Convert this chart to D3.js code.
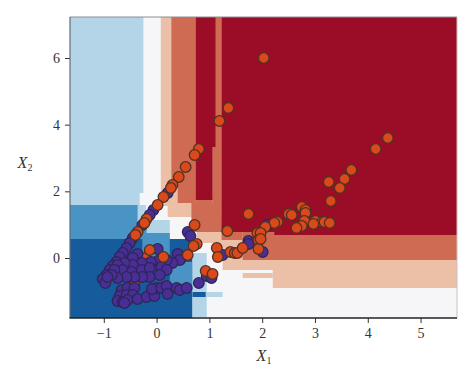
<!DOCTYPE html>
<html><head><meta charset="utf-8">
<script src="https://cdn.jsdelivr.net/npm/d3@7"></script>
<style>html,body{margin:0;background:#fff}svg{display:block}
.tick text{font-family:"Liberation Serif",serif;font-size:14px;fill:#333}
.lab{font-family:"Liberation Serif",serif;fill:#333}
.lab .m{font-style:italic;font-size:16px}
.lab .s{font-style:normal;font-size:10px}</style>
</head><body><svg id="c" width="474" height="380"></svg>
<script>
const xDomain=[-1.64,5.69], yDomain=[-1.8,7.23];
const xTicks=[-1,0,1,2,3,4,5], yTicks=[0,2,4,6];
const levelColors=["#f6f6f8","#b4d5e8","#4a94c5","#145c9c","#ecc0a7","#cf6a53","#9b1027"];
// regions: [level, x0, x1, y0, y1], painted in order
const regions=[
[0,-1.64,5.69,-1.8,7.23],
[1,-1.64,-.25,1.95,7.23],[1,-1.64,-.32,1.59,1.95],[1,-.40,-.20,1.14,1.59],[1,-.30,.25,.39,1.14],
[3,-1.64,.68,-1.8,.57],
[2,-1.64,-.36,.57,1.59],[2,-.40,-.19,.57,.99],[2,-.27,.25,0,.75],[2,.25,.68,-1.02,-.12],
[1,.68,.95,-1.77,.15],[1,.87,1.25,-1.17,-1.02],
[3,.68,.93,-1.17,-1.02],
[4,.08,5.69,1.56,7.23],[4,.21,.76,1.23,1.56],[4,.76,2.01,.45,1.23],[4,1.14,2.01,.15,.45],[4,1.25,2.33,-.36,.54],
[4,2.20,5.69,-.90,-.06],[4,1.63,2.20,-.60,-.45],
[5,.28,.74,2.34,7.23],[5,.40,.74,1.65,2.34],[5,.66,1.23,.78,1.65],[5,1.06,1.23,.78,3.33],[5,1.12,1.23,3.33,7.23],[5,.74,1.06,1.60,1.80],[5,1.23,1.63,.54,.78],[5,1.63,5.69,-.06,.78],
[6,.74,1.12,3.33,7.23],[6,.74,1.06,1.74,3.33],[6,1.23,5.69,.78,7.23],[6,2.23,5.69,.69,.78]
];
const redBack=[[-.21,0],[-.42,-.81]];
const blue=[[.21,1.95],[-.06,1.44],[-.13,1.29],[-.27,.99],[-.45,.60],[-.51,.45],[-.57,.30],[-.64,.15],[-.70,.03],[-.76,-.12],[-.83,-.24],[-.89,-.36],[-.95,-.51],[-1.02,-.63],[-.97,-.75],
[.02,.27],[.42,.09],[.45,-.03],[.59,.78],[.64,.66],[.80,-.75],[.95,-.54],[1.04,-.60],[1.25,.09],[1.74,.51],[1.74,.42],[2.01,.18],[2.10,.99],
[-.36,.12],[-.45,0],[.40,.12],[.44,-.06],[.30,-.15],[.19,-.06],[.02,-.09],[-.11,-.12],[-.28,-.15],[-.45,-.21],[-.61,-.15],[-.74,-.21],[-.64,-.36],[-.80,-.36],[-.47,-.42],[-.28,-.36],[-.13,-.30],[.09,-.27],[.19,-.36],[.06,-.51],[-.13,-.57],[-.27,-.57],[-.42,-.57],[-.57,-.57],[-.74,-.60],[-.85,-.51],[-.93,-.57],
[-.66,-.96],[-.55,-.90],[-.42,-.90],[-.70,-1.14],[-.57,-1.11],[-.45,-1.11],[-.74,-1.29],[-.64,-1.32],[-.55,-1.26],[-.61,-1.35],[-.36,-1.23],[-.19,-1.17],[-.04,-1.14],[0,-.90],[-.09,-.93],[.09,-.90],[.19,-.84],[.21,-1.08],[.38,-.90],[.44,-.96],[.57,-.90]];
const red=[[1.36,4.50],[1.19,4.11],[.80,3.27],[.72,3.09],[.55,2.73],[.42,2.43],[.30,2.19],[.27,2.10],[.13,1.83],[.02,1.59],[-.19,1.17],[-.23,1.05],[-.36,.78],[-.40,.69],[2.03,6.0],
[-.13,.24],[.13,.03],[.59,.09],[.72,.99],[.76,.42],[.70,.36],[1.34,.81],[1.74,1.32],[1.14,.30],[1.16,.03],[1.40,.18],[1.48,.15],[1.53,.15],[1.63,.30],[1.91,.75],[1.93,.54],[1.93,.27],[.93,-.39],[1.06,-.48],
[4.38,3.60],[4.15,3.27],[3.69,2.64],[3.56,2.37],[3.47,2.10],[3.26,2.28],[3.30,1.71],[2.75,1.53],[2.82,1.44],[2.82,1.35],[2.50,1.32],[2.56,1.29],[2.80,1.11],[3.01,1.11],[2.29,1.08],[2.23,1.05],[3.14,1.08],[3.18,1.08],[3.28,1.05],[2.75,.96],[2.65,.90],[2.97,1.02],[2.06,.93],[1.97,.75],[1.97,.57]];

const L=70,R=457,T=17,B=318;
const x=d3.scaleLinear().domain(xDomain).range([L,R]);
const y=d3.scaleLinear().domain(yDomain).range([B,T]);
const svg=d3.select("#c");
const defs=svg.append("defs");
defs.append("filter").attr("id","soft").append("feGaussianBlur").attr("stdDeviation",0.5);
defs.append("clipPath").attr("id","plot").append("rect").attr("x",L).attr("y",T).attr("width",R-L).attr("height",B-T);
svg.append("g").attr("clip-path","url(#plot)").append("g").attr("filter","url(#soft)").selectAll("rect").data(regions).join("rect")
 .attr("x",d=>x(d[1])).attr("width",d=>x(d[2])-x(d[1]))
 .attr("y",d=>y(d[4])).attr("height",d=>y(d[3])-y(d[4]))
 .attr("fill",d=>levelColors[d[0]]);
const pts=(arr,fill,stroke)=>svg.append("g").selectAll("circle").data(arr).join("circle")
 .attr("cx",d=>x(d[0])).attr("cy",d=>y(d[1])).attr("r",5.3)
 .attr("fill",fill).attr("stroke",stroke).attr("stroke-width",1.3).attr("filter","url(#soft)");
pts(redBack,"#d9481c","#4f3324");
pts(blue,"#4a2f96","#2f2558");
pts(red,"#d9481c","#4f3324");
const gx=svg.append("g").attr("transform",`translate(0,${B})`).call(d3.axisBottom(x).tickValues(xTicks).tickSize(5).tickPadding(5).tickFormat(d=>d<0?"\u2212"+(-d):d));
const gy=svg.append("g").attr("transform",`translate(${L},0)`).call(d3.axisLeft(y).tickValues(yTicks).tickSize(5).tickPadding(5));
[gx,gy].forEach(g=>{g.select(".domain").remove();g.selectAll("line").attr("stroke","#333")});
const spine=(a,b,c,d,col,w)=>svg.append("line").attr("x1",a).attr("y1",b).attr("x2",c).attr("y2",d).attr("stroke",col).attr("stroke-width",w);
spine(L,T,R,T,"#8a8f94",1);spine(R,T,R,B,"#c4c4c4",1);spine(L,T,L,B,"#5f6c78",1.2);spine(L-0.5,B,R,B,"#222",1.6);
const t1=svg.append("text").attr("class","lab").attr("x",264).attr("y",361).attr("text-anchor","middle");
t1.append("tspan").attr("class","m").text("X");t1.append("tspan").attr("class","s").attr("dy",3).text("1");
const t2=svg.append("text").attr("class","lab").attr("x",25).attr("y",168).attr("text-anchor","middle");
t2.append("tspan").attr("class","m").text("X");t2.append("tspan").attr("class","s").attr("dy",3).text("2");
</script></body></html>
